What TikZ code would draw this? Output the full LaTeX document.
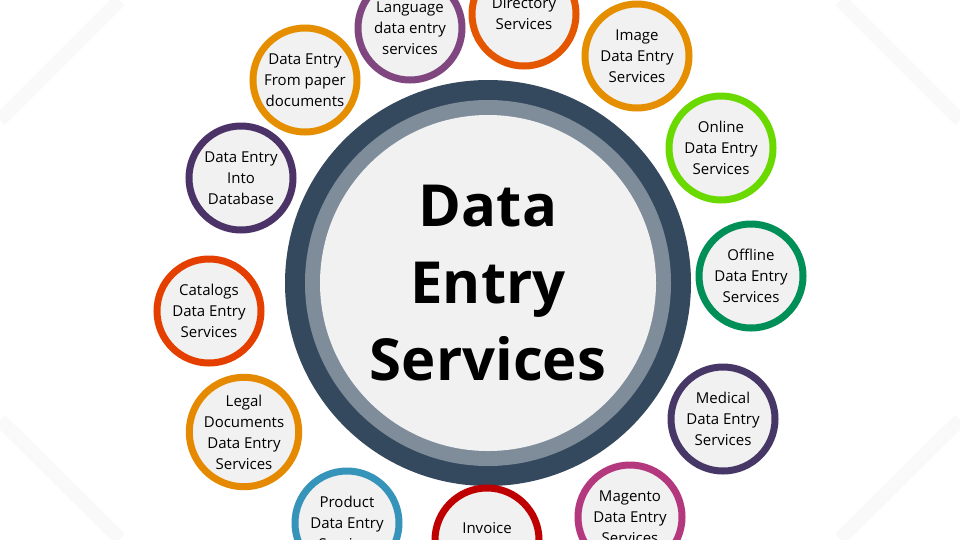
\documentclass[tikz,border=0pt]{standalone}
\usepackage{fontspec}
\setmainfont{Open Sans}
\usetikzlibrary{backgrounds}
\definecolor{ringdark}{HTML}{34495E}
\definecolor{ringmid}{HTML}{7F8D9B}
\definecolor{inner}{HTML}{F1F1F1}
\tikzset{
  sat/.style={circle, minimum size=104pt, inner sep=0pt, line width=7pt, draw=#1, fill=inner, align=center, font=\fontsize{15}{21}\selectfont, text=black},
  conn/.style={draw=ringmid!70!black, line width=4pt}
}
\begin{document}
\begin{tikzpicture}[x=1pt,y=-1pt]
\useasboundingbox (0,0) rectangle (960,539);
\fill[white] (0,0) rectangle (960,539);
\begin{scope}[draw=gray!5, line width=14pt]
\draw (0,120) -- (120,0); \draw (0,420) -- (120,539); \draw (840,0) -- (960,120); \draw (840,539) -- (960,420);
\end{scope}
\node[circle, minimum size=406pt, fill=ringdark, inner sep=0pt] (c) at (488,283) {};
\fill[ringmid] (488,283) circle (183);
\fill[inner] (488,283) circle (168);
\node[font=\bfseries\fontsize{58}{77}\selectfont, align=center] (t) at (488,283) {Data\\Entry\\Services};
\node[sat=violet!45!gray] (s1) at (410,28) {Language\\data entry\\services};
\node[sat=orange!75!red!90!black] (s2) at (524,14) {Directory\\Services};
\node[sat=orange!75!yellow!90!black] (s3) at (637,56) {Image\\Data Entry\\Services};
\node[sat=lime!65!green!85!black] (s4) at (721,148) {Online\\Data Entry\\Services};
\node[sat=teal!75!green!90!black] (s5) at (751,276) {Offline\\Data Entry\\Services};
\node[sat=ringdark!75!violet] (s6) at (723,419) {Medical\\Data Entry\\Services};
\node[sat=magenta!65!violet!85!black] (s7) at (630,517) {Magento\\Data Entry\\Services};
\node[sat=red!75!black] (s8) at (487,540) {Invoice\\Data Entry};
\node[sat=cyan!60!teal!90!black] (s9) at (347,523) {Product\\Data Entry\\Services};
\node[sat=orange!80!yellow!90!black] (s10) at (244,432) {Legal\\Documents\\Data Entry\\Services};
\node[sat=orange!55!red!90!black] (s11) at (209,311) {Catalogs\\Data Entry\\Services};
\node[sat=ringdark!70!violet] (s12) at (241,178) {Data Entry\\Into\\Database};
\node[sat=orange!75!yellow!90!black] (s13) at (305,80) {Data Entry\\From paper\\documents};
\begin{scope}[on background layer]
\foreach \i in {1,...,13} \draw[conn] (c.center) -- (s\i.center);
\end{scope}
\end{tikzpicture}
\end{document}
